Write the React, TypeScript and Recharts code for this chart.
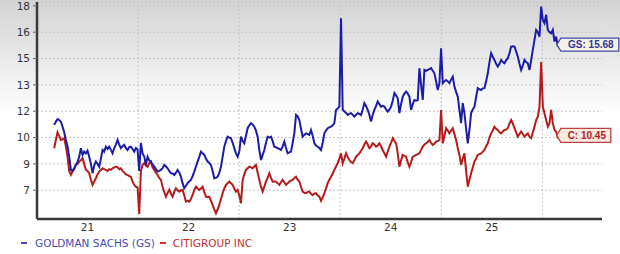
import React from "react";
import { LineChart, Line, XAxis, YAxis, CartesianGrid, ReferenceLine, Legend } from "recharts";

// Price/earnings ratio, sampled roughly every 6 days from early Sep 2020 to late Aug 2025
const startYear = 2020.67;
const stepYears = 0.0165;

const gsValues = [
  11.22, 11.4, 11.55, 11.5, 11.4, 11.12, 10.8, 10.36, 10.0, 9.41, 8.66, 8.6,
  8.75, 8.94, 9.1, 9.4, 9.89, 9.51, 9.7, 9.6, 9.75, 9.41, 9.0, 8.47,
  8.9, 9.13, 9.0, 8.84, 9.3, 9.79, 9.7, 9.98, 9.85, 9.98, 9.8, 9.6,
  9.9, 10.1, 10.36, 10.1, 9.89, 10.0, 10.08, 9.9, 9.79, 9.95, 9.98, 9.85,
  9.7, 9.9, 9.83, 8.6, 10.2, 9.6, 9.41, 8.94, 9.41, 9.2, 9.13, 8.95,
  8.84, 8.7, 8.56, 8.6, 8.66, 8.75, 8.94, 8.85, 8.75, 8.6, 8.47, 8.45,
  8.37, 8.5, 8.66, 8.5, 8.27, 7.9, 7.61, 7.75, 7.9, 8.0, 8.09, 8.3,
  8.56, 8.85, 9.13, 9.4, 9.7, 9.6, 9.51, 9.3, 9.13, 9.05, 8.94, 8.6,
  8.18, 8.2, 8.27, 8.5, 8.84, 9.4, 9.98, 10.3, 10.55, 10.5, 10.46, 10.2,
  9.89, 9.6, 9.41, 9.7, 10.55, 10.3, 10.17, 10.6, 11.03, 11.2, 11.32, 11.25,
  11.12, 10.9, 10.55, 9.79, 9.22, 9.5, 9.79, 10.2, 10.55, 10.5, 10.55, 10.3,
  9.98, 9.95, 9.89, 9.85, 9.79, 10.0, 10.27, 9.9, 9.6, 9.65, 9.7, 10.2,
  10.74, 11.79, 11.7, 11.5, 11.0, 10.55, 10.65, 10.74, 10.7, 10.65, 10.93, 10.6,
  10.17, 10.05, 9.98, 9.9, 9.79, 10.2, 10.74, 10.9, 11.03, 11.08, 11.12, 11.2,
  11.32, 12.07, 12.15, 12.26, 17.3, 12.1, 11.98, 11.9, 11.79, 11.85, 11.89, 11.8,
  11.69, 11.8, 11.89, 11.85, 11.79, 12.1, 12.46, 12.3, 12.07, 11.8, 11.41, 11.8,
  12.07, 12.3, 12.55, 12.4, 12.26, 12.3, 12.26, 12.1, 11.98, 12.1, 12.26, 12.6,
  13.03, 12.9, 12.74, 11.89, 12.4, 12.83, 13.0, 13.12, 13.0, 12.83, 12.07, 12.4,
  12.64, 12.6, 12.64, 14.45, 13.5, 12.64, 14.35, 14.3, 14.35, 14.4, 14.45, 14.3,
  14.16, 13.7, 13.21, 13.6, 15.59, 13.6, 13.7, 13.78, 13.7, 13.6, 13.8, 13.97,
  13.4, 13.1, 12.83, 12.07, 11.32, 12.46, 11.89, 11.0, 10.17, 10.93, 11.89, 12.1,
  12.26, 12.8, 13.31, 13.25, 13.21, 13.3, 13.31, 13.7, 14.16, 14.8, 15.3, 15.1,
  14.92, 14.7, 14.54, 14.7, 14.92, 14.8, 14.73, 14.9, 15.02, 15.3, 15.68, 15.7,
  15.68, 15.4, 15.11, 14.7, 14.35, 14.6, 14.92, 14.8, 14.73, 14.35, 14.9, 15.49,
  16.06, 16.63, 16.5, 16.25, 17.96, 17.2, 17.01, 17.49, 16.63, 16.5, 16.44, 16.63,
  15.97, 16.25, 15.68,
];

const cValues = [
  9.89, 10.36, 10.8, 10.6, 10.36, 10.4, 10.46, 10.0, 9.41, 8.6, 8.37, 8.56,
  8.7, 8.94, 9.0, 9.13, 9.2, 9.32, 9.0, 8.66, 8.6, 8.47, 8.1, 7.8,
  8.0, 8.18, 8.4, 8.56, 8.65, 8.75, 8.7, 8.66, 8.6, 8.7, 8.66, 8.75,
  8.8, 8.84, 8.8, 8.7, 8.75, 8.6, 8.5, 8.4, 8.37, 8.3, 8.27, 8.0,
  7.8, 7.7, 7.65, 6.15, 8.6, 8.94, 9.04, 8.9, 8.84, 9.04, 9.13, 8.8,
  8.66, 8.5, 8.37, 8.2, 8.09, 7.7, 7.4, 7.13, 7.35, 7.52, 7.3, 7.13,
  7.4, 7.61, 7.5, 7.42, 7.5, 7.52, 7.2, 6.85, 6.9, 6.85, 7.0, 7.23,
  7.5, 7.7, 7.6, 7.52, 7.6, 7.7, 7.4, 7.13, 7.1, 7.13, 6.9, 6.66,
  6.4, 6.19, 6.4, 6.66, 7.0, 7.33, 7.6, 7.8, 7.9, 7.99, 7.9, 7.8,
  7.6, 7.42, 7.52, 7.2, 6.76, 8.09, 8.4, 8.66, 8.75, 8.84, 8.8, 8.75,
  8.85, 8.94, 8.5, 8.09, 7.7, 7.42, 7.7, 7.99, 8.2, 8.47, 8.2, 7.99,
  8.0, 7.99, 7.9, 7.8, 7.95, 8.09, 7.95, 7.8, 7.9, 7.99, 8.05, 8.09,
  8.2, 8.27, 8.1, 7.99, 7.7, 7.42, 7.35, 7.33, 7.4, 7.42, 7.3, 7.23,
  7.3, 7.33, 7.2, 7.13, 6.9, 7.1, 7.33, 7.6, 7.9, 8.1, 8.27, 8.45,
  8.66, 8.85, 9.04, 9.3, 9.6, 9.04, 9.3, 9.6, 9.4, 9.22, 9.1, 9.04,
  9.2, 9.41, 9.5, 9.6, 9.75, 9.89, 10.1, 10.27, 10.1, 9.89, 10.0, 10.17,
  10.1, 9.98, 10.05, 10.17, 10.0, 9.79, 9.6, 9.41, 9.7, 9.98, 10.2, 10.46,
  10.3, 10.17, 9.6, 8.84, 9.2, 9.51, 9.45, 9.41, 9.1, 8.84, 9.1, 9.41,
  9.45, 9.51, 9.55, 9.6, 9.8, 9.98, 10.1, 10.17, 10.25, 10.36, 10.2, 10.08,
  10.15, 10.27, 10.3, 10.36, 12.07, 10.17, 10.6, 11.03, 10.9, 10.74, 10.9, 11.03,
  10.7, 10.36, 9.9, 9.51, 8.94, 9.3, 9.6, 8.6, 7.7, 8.1, 8.47, 8.8,
  9.13, 9.3, 9.51, 9.55, 9.6, 9.7, 9.79, 10.0, 10.17, 10.5, 10.74, 10.9,
  11.12, 11.0, 10.93, 10.8, 10.74, 10.85, 10.93, 10.95, 11.03, 11.3, 11.5, 11.3,
  11.03, 10.8, 10.55, 10.7, 10.84, 10.7, 10.55, 10.65, 10.74, 10.55, 10.46, 10.8,
  11.12, 11.5, 11.69, 12.26, 14.8, 12.26, 11.89, 11.5, 11.12, 11.32, 12.07, 11.32,
  10.93, 10.84, 10.45,
];

const xTicks = [2021, 2022, 2023, 2024, 2025];
const midYearLines = [2021.5, 2022.5, 2023.5, 2024.5, 2025.5];
const yTicks = [7.5, 9, 10.5, 12, 13.5, 15, 16.5, 18];

const gsName = "GOLDMAN SACHS (GS)";
const cName = "CITIGROUP INC";
const gsTag = "GS";
const cTag = "C";

const data = gsValues.map((v, i) => ({
  t: startYear + i * stepYears,
  gs: v,
  c: cValues[i],
}));
const lastIndex = data.length - 1;

const GS_COLOR = "#1c1ca8";
const C_COLOR = "#b41c1c";
const FONT = "'DejaVu Sans', Verdana, sans-serif";

function makeEndLabel(
  tag: string,
  value: number,
  border: string,
  fill: string,
  textColor: string,
  boxW: number,
  boxH: number,
  dy: number
) {
  return (props: any) => {
    if (props.index !== lastIndex) return <g />;
    const x0 = props.x - 1;
    const yc = props.y + dy;
    const xl = x0 + 4;
    const xr = x0 + 4 + boxW;
    const yt = yc - boxH / 2;
    const yb = yc + boxH / 2;
    const d = `M${x0},${yc} L${xl},${yt} L${xr},${yt} L${xr},${yb} L${xl},${yb} Z`;
    return (
      <g>
        <path d={d} fill={fill} stroke={border} strokeWidth={1.3} />
        <text
          x={(xl + xr) / 2 + 1}
          y={yc}
          dy="0.36em"
          textAnchor="middle"
          fontFamily="'Liberation Sans', Arial, sans-serif"
          fontWeight="bold"
          fontSize={10}
          fill={textColor}
        >
          {`${tag}: ${value.toFixed(2)}`}
        </text>
      </g>
    );
  };
}

const renderLegend = () => (
  <div
    style={{
      display: "flex",
      alignItems: "center",
      fontFamily: FONT,
      fontSize: "10.5px",
      whiteSpace: "nowrap",
      lineHeight: "14px",
    }}
  >
    <span style={{ display: "inline-block", width: 6, height: 2, background: "#4a4ab4", marginRight: 8 }} />
    <span style={{ color: "#4a4ab4" }}>{gsName}</span>
    <span style={{ display: "inline-block", width: 6, height: 2, background: "#c83030", marginLeft: 5, marginRight: 7 }} />
    <span style={{ color: "#c83030" }}>{cName}</span>
  </div>
);

export default function App() {
  return (
    <div
      style={{
        position: "absolute",
        left: 0,
        top: 0,
        width: 620,
        height: 254,
        background: "linear-gradient(to bottom, #d3d3d3 0px, #ffffff 115px)",
      }}
    >
      <LineChart
        width={620}
        height={254}
        data={data}
        margin={{ top: 2, right: 18, bottom: 5, left: 0 }}
      >
        <CartesianGrid
          horizontal={true}
          vertical={false}
          stroke="#c4c4c4"
          strokeDasharray="2 2"
        />
        {midYearLines.map((v) => (
          <ReferenceLine key={v} x={v} stroke="#c4c4c4" strokeDasharray="2 2" />
        ))}
        <XAxis
          dataKey="t"
          type="number"
          domain={[2020.5, 2026.09]}
          ticks={xTicks}
          tickFormatter={(v: number) => String(v).slice(2)}
          allowDataOverflow
          height={30}
          tickLine={false}
          tickSize={0}
          tickMargin={5}
          axisLine={{ stroke: "#3a3a3a", strokeWidth: 2.5 }}
          tick={{ fontSize: 10.5, fill: "#333", fontFamily: FONT }}
        />
        <YAxis
          type="number"
          domain={[5.86, 18.22]}
          ticks={yTicks}
          allowDataOverflow
          tickFormatter={(v: number) => String(Math.floor(v))}
          width={37}
          tickSize={4}
          tickMargin={3}
          tickLine={{ stroke: "#666" }}
          axisLine={{ stroke: "#3a3a3a", strokeWidth: 2.5 }}
          tick={{ fontSize: 10.5, fill: "#333", fontFamily: FONT }}
        />
        <Legend
          verticalAlign="bottom"
          align="left"
          content={renderLegend}
          wrapperStyle={{ position: "absolute", left: 21, top: 236, width: 320, height: 0 }}
        />
        <Line
          type="linear"
          dataKey="c"
          name={cName}
          stroke={C_COLOR}
          strokeWidth={2}
          dot={false}
          isAnimationActive={false}
          label={makeEndLabel(cTag, cValues[cValues.length - 1], "#c04040", "#f9e9df", "#b02020", 50, 14, -3)}
        />
        <Line
          type="linear"
          dataKey="gs"
          name={gsName}
          stroke={GS_COLOR}
          strokeWidth={2}
          dot={false}
          isAnimationActive={false}
          label={makeEndLabel(gsTag, gsValues[gsValues.length - 1], "#4848a8", "#f3f3e4", "#35359a", 58, 13, -2)}
        />
      </LineChart>
    </div>
  );
}
